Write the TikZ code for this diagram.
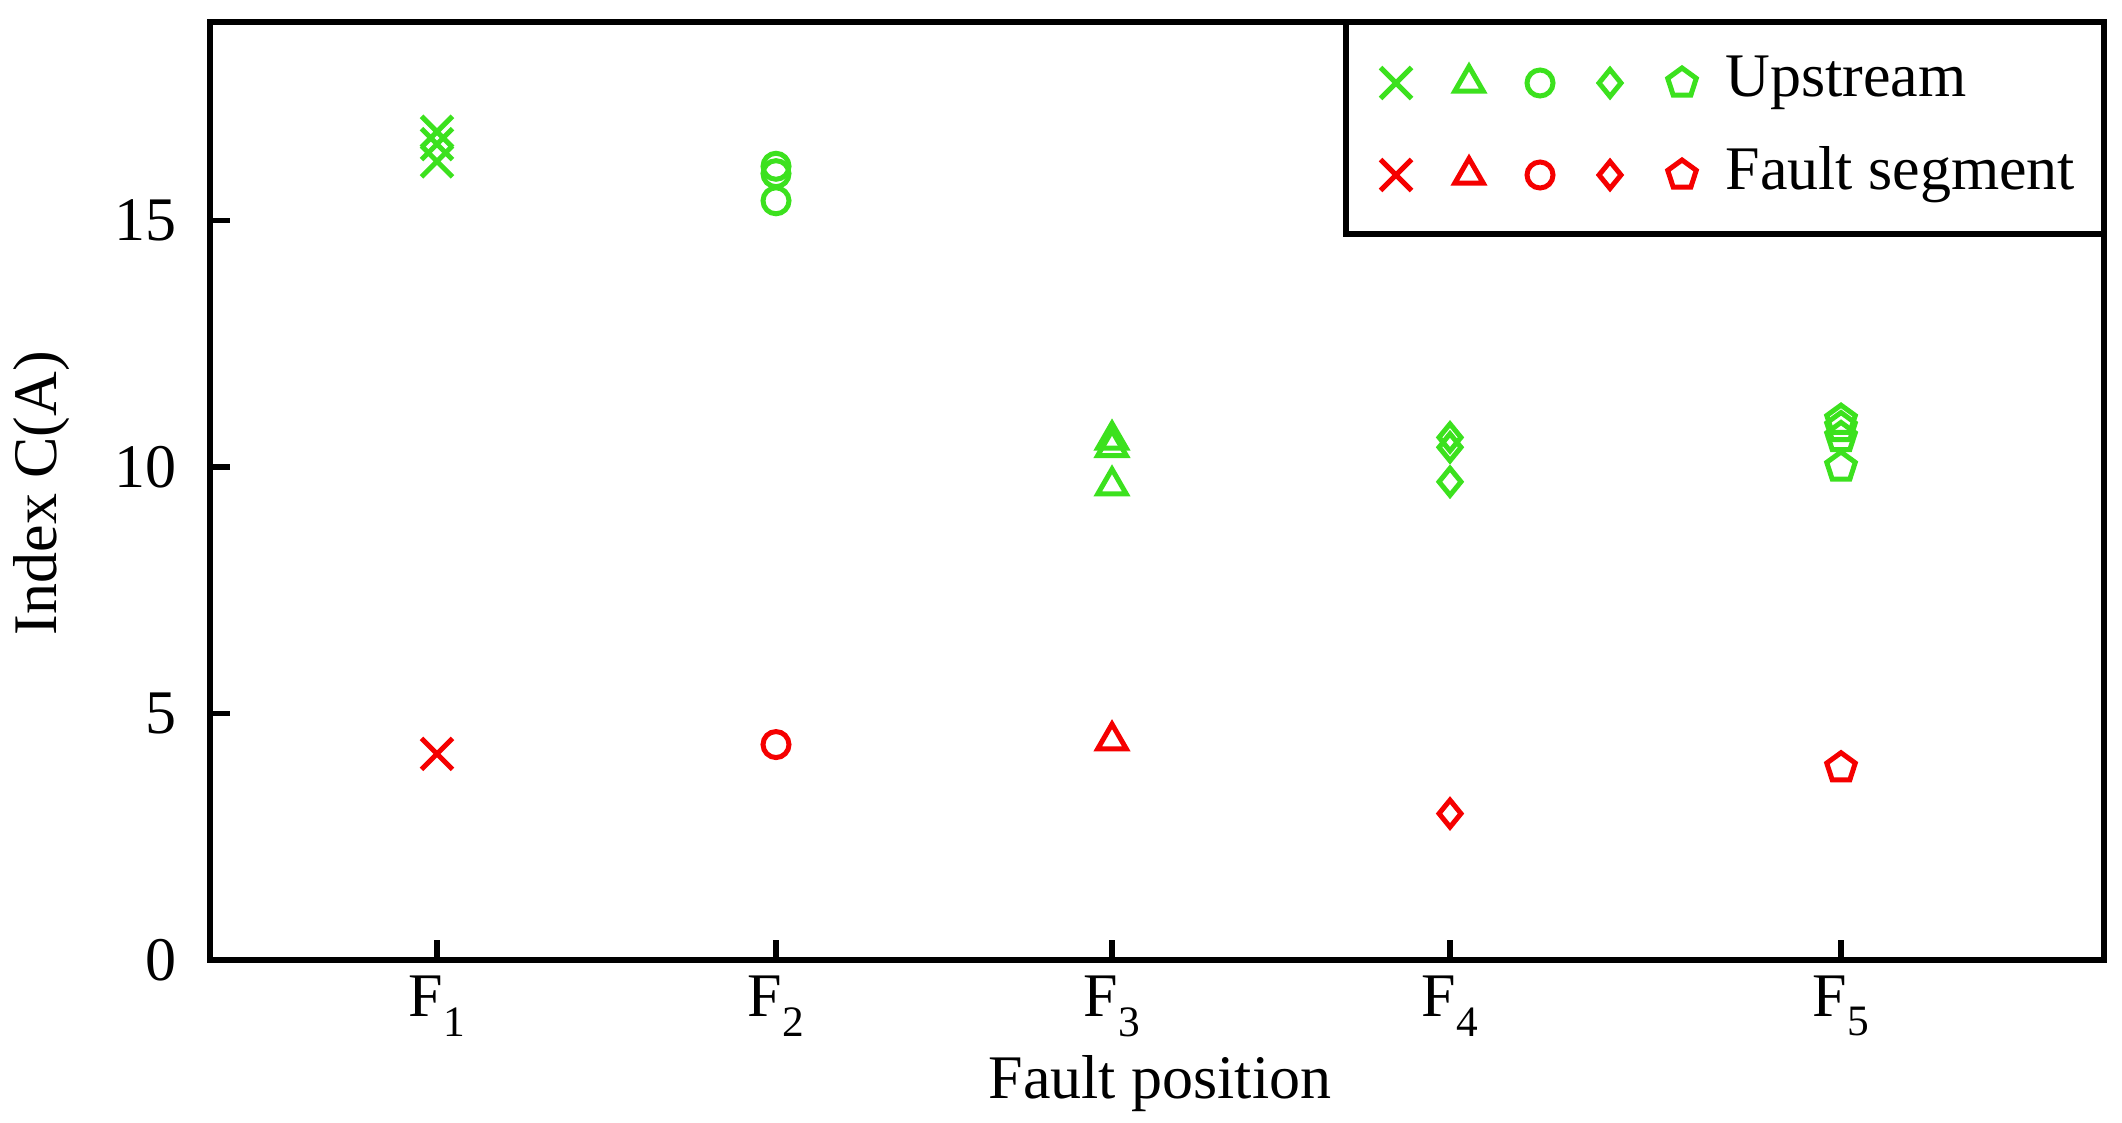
\documentclass[tikz,border=0pt]{standalone}
\usepackage{fontspec}
\setmainfont{Liberation Serif}
\usetikzlibrary{shapes.misc,shapes.geometric}
\definecolor{gr}{RGB}{60,225,30}
\definecolor{rd}{RGB}{245,0,0}
\tikzset{
 mk/.style={draw=#1,line width=5pt,inner sep=0pt},
 mx/.style={mk=#1,cross out,minimum size=26pt},
 mt/.style={mk=#1,regular polygon,regular polygon sides=3,minimum size=33pt},
 mo/.style={mk=#1,circle,minimum size=26pt},
 md/.style={mk=#1,diamond,minimum width=24pt,minimum height=29pt},
 mp/.style={mk=#1,regular polygon,regular polygon sides=5,minimum size=30pt},
 ax/.style={line width=5.5pt},
 lab/.style={font=\fontsize{62}{62}\selectfont}
}
\begin{document}
\begin{tikzpicture}[x=1pt,y=-1pt]
\def\U{49.3}
\useasboundingbox (0,0) rectangle (2122,1123);
\draw[ax] (210,22) rectangle (2104,960);
\foreach \v/\lbl in {0/0,5/5,10/10,15/15}{
 \draw[ax] (210,{960-\U*\v}) -- (230,{960-\U*\v});
 \node[lab,anchor=east] (y\v) at (180,{960-\U*\v}) {\lbl};
}
\foreach \x/\i in {437/1,776/2,1112/3,1450/4,1841/5}{
 \draw[ax] (\x,960) -- (\x,940);
 \node[lab,anchor=north] (f\i) at (\x,972) {F\textsubscript{\i}};
}
\node[lab,anchor=north] (xl) at (1160,1052) {Fault position};
\node[lab,rotate=90] (yl) at (42,493) {Index C(A)};
\node[mx=gr] (a1) at (437,{960-\U*16.8}) {};
\node[mx=gr] (a2) at (437,{960-\U*16.55}) {};
\node[mx=gr] (a3) at (437,{960-\U*16.2}) {};
\node[mx=rd] (a4) at (437,{960-\U*4.18}) {};
\node[mo=gr] (b1) at (776,{960-\U*16.1}) {};
\node[mo=gr] (b2) at (776,{960-\U*15.95}) {};
\node[mo=gr] (b3) at (776,{960-\U*15.4}) {};
\node[mo=rd] (b4) at (776,{960-\U*4.37}) {};
\node[mt=gr] (c1) at (1112,{960-\U*10.55}) {};
\node[mt=gr] (c2) at (1112,{960-\U*10.4}) {};
\node[mt=gr] (c3) at (1112,{960-\U*9.62}) {};
\node[mt=rd] (c4) at (1112,{960-\U*4.45}) {};
\node[md=gr] (d1) at (1450,{960-\U*10.6}) {};
\node[md=gr] (d2) at (1450,{960-\U*10.4}) {};
\node[md=gr] (d3) at (1450,{960-\U*9.7}) {};
\node[md=rd] (d4) at (1450,{960-\U*2.97}) {};
\node[mp=gr] (e1) at (1841,{960-\U*10.95}) {};
\node[mp=gr] (e2) at (1841,{960-\U*10.8}) {};
\node[mp=gr] (e3) at (1841,{960-\U*10.6}) {};
\node[mp=gr] (e4) at (1841,{960-\U*10.0}) {};
\node[mp=rd] (e5) at (1841,{960-\U*3.9}) {};
\draw[ax,fill=white] (1346,22) rectangle (2104,234);
\node[mx=gr] (l1) at (1396,83) {};
\node[mt=gr] (l2) at (1469,83) {};
\node[mo=gr] (l3) at (1540,83) {};
\node[md=gr] (l4) at (1610,83) {};
\node[mp=gr] (l5) at (1682,83) {};
\node[mx=rd] (m1) at (1396,175) {};
\node[mt=rd] (m2) at (1469,175) {};
\node[mo=rd] (m3) at (1540,175) {};
\node[md=rd] (m4) at (1610,175) {};
\node[mp=rd] (m5) at (1682,175) {};
\node[anchor=west,font=\fontsize{62}{62}\selectfont] (lt1) at (1722,83) {Upstream};
\node[anchor=west,font=\fontsize{62}{62}\selectfont] (lt2) at (1722,175) {Fault segment};
\end{tikzpicture}
\end{document}
